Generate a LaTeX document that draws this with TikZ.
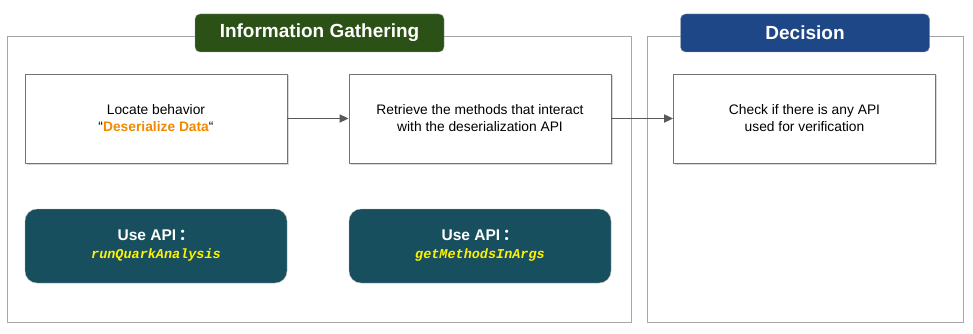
\documentclass[tikz,border=0pt]{standalone}
\usepackage{fontspec}
\setmainfont{Liberation Sans}
\setmonofont{Liberation Mono}
\newfontfamily\cjk{Noto Sans CJK SC}
\usetikzlibrary{shadows,arrows.meta}
\definecolor{framegray}{HTML}{A6A6A6}
\definecolor{gathergreen}{HTML}{2B5116}
\definecolor{decideblue}{HTML}{1E4788}
\definecolor{apiteal}{HTML}{174F5E}
\definecolor{behaviororange}{HTML}{F08A00}
\definecolor{arrowgray}{HTML}{595959}
\tikzset{
  frame/.style={draw=framegray,line width=0.9pt,fill=white,inner sep=0pt},
  titlebox/.style={fill=#1,draw=black!40,rounded corners=5pt,minimum width=249pt,minimum height=38pt,
    text=white,font=\fontsize{19}{22}\selectfont\bfseries},
  stepbox/.style={draw=black!55,fill=white,line width=0.8pt,minimum width=262pt,minimum height=89pt,
    align=center,font=\fontsize{13.8}{17}\selectfont,
    drop shadow={opacity=0.3,shadow xshift=1.5pt,shadow yshift=-1.5pt}},
  apibox/.style={fill=apiteal,draw=black!30,rounded corners=12pt,minimum width=262pt,minimum height=74pt,
    align=center,text=white,font=\fontsize{15.5}{19}\selectfont\bfseries},
  flow/.style={-{Triangle[length=9pt,width=8pt]},draw=arrowgray,line width=1.8pt}
}
\begin{document}
\begin{tikzpicture}[x=1pt,y=-1pt,line join=round,>=latex]
  \useasboundingbox[fill=white] (0,0) rectangle (973,334);

  % stage frames
  \node[frame,minimum width=624pt,minimum height=286pt] (gatherframe) at (319,179) {};
  \node[frame,minimum width=316pt,minimum height=286pt] (decideframe) at (805,179) {};

  % stage titles
  \node[titlebox=gathergreen] (gathertitle) at (319.5,33) {Information Gathering};
  \node[titlebox=decideblue] (decidetitle) at (805,33) {Decision};

  % steps
  \node[stepbox] (locate) at (156,118.5)
    {Locate behavior\\“{\color{behaviororange}\bfseries Deserialize Data}“};
  \node[stepbox] (retrieve) at (480,118.5)
    {Retrieve the methods that interact\\with the deserialization API};
  \node[stepbox] (check) at (804.5,118.5)
    {Check if there is any API\\used for verification};

  % api calls
  \node[apibox] (quarkapi) at (156,246)
    {Use API\,{\cjk ：}\\[-1pt]{\ttfamily\itshape\fontsize{13.5}{17}\selectfont\color{yellow}runQuarkAnalysis}};
  \node[apibox] (argsapi) at (480,246)
    {Use API\,{\cjk ：}\\[-1pt]{\ttfamily\itshape\fontsize{13.5}{17}\selectfont\color{yellow}getMethodsInArgs}};

  \draw[flow] (locate) -- (retrieve);
  \draw[flow] (retrieve) -- (check);
\end{tikzpicture}
\end{document}
